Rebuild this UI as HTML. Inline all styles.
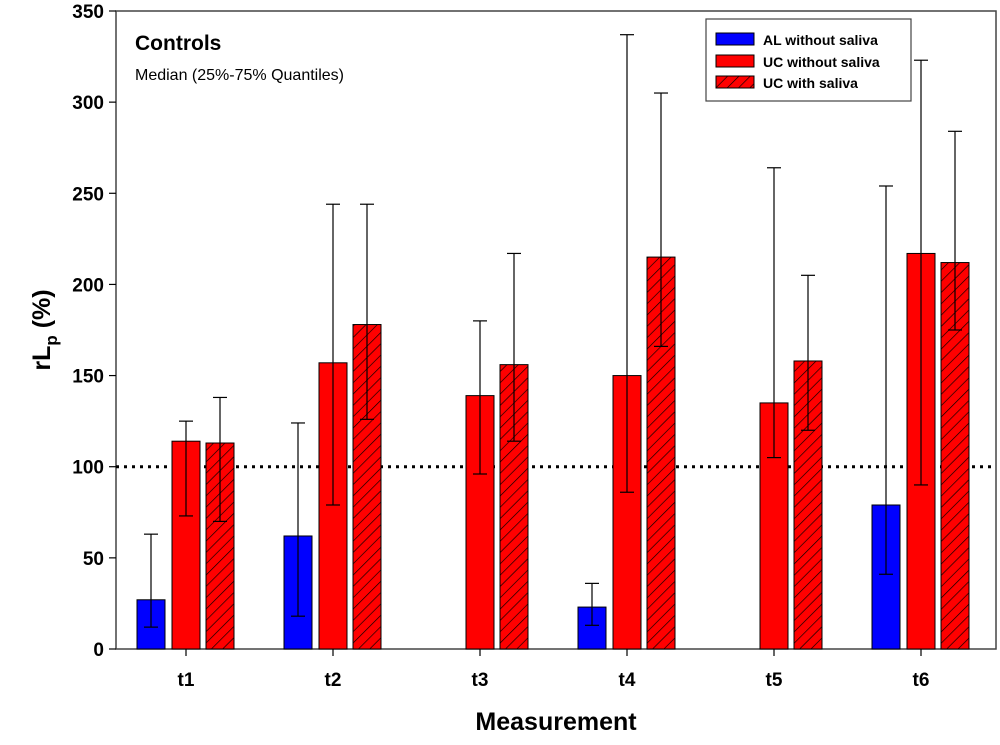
<!DOCTYPE html>
<html><head><meta charset="utf-8"><style>
body{margin:0;background:#fff;}
svg text{font-family:"Liberation Sans",Arial,sans-serif;}
</style></head><body>
<svg width="1000" height="740" xmlns="http://www.w3.org/2000/svg">
<defs>
<pattern id="hatch" patternUnits="userSpaceOnUse" width="8" height="8" patternTransform="rotate(45)">
<rect width="8" height="8" fill="#ff0000"/>
<line x1="0" y1="0" x2="0" y2="8" stroke="#000" stroke-width="1.3"/>
</pattern>
</defs>
<rect x="116" y="11" width="880" height="638" fill="none" stroke="#444" stroke-width="1.5"/>
<g id="yaxis"></g>
<g id="xaxis"></g>
<line x1="116" x2="996" y1="466" y2="466" stroke="#000" stroke-width="3" stroke-dasharray="3,5" id="refline"/>
<g id="bars"></g>
<text x="135" y="50" font-size="21" font-weight="bold">Controls</text>
<text x="135" y="80" font-size="16">Median (25%-75% Quantiles)</text>
<text transform="translate(50,330) rotate(-90)" text-anchor="middle" font-size="25" font-weight="bold">rL<tspan font-size="17" dy="7">p</tspan><tspan dy="-7"> (%)</tspan></text>
<text x="556" y="730" text-anchor="middle" font-size="25" font-weight="bold">Measurement</text>
<g>
<rect x="706" y="19" width="205" height="82" fill="#fff" stroke="#444" stroke-width="1.2"/>
<rect x="716" y="33" width="38" height="12" fill="#0000ff" stroke="#000"/>
<text x="763" y="45" font-size="14" font-weight="bold">AL without saliva</text>
<rect x="716" y="55" width="38" height="12" fill="#ff0000" stroke="#000"/>
<text x="763" y="67" font-size="14" font-weight="bold">UC without saliva</text>
<rect x="716" y="76" width="38" height="12" fill="url(#hatch)" stroke="#000"/>
<text x="763" y="88" font-size="14" font-weight="bold">UC with saliva</text>
</g>
</svg>
<script>
const categories=["t1","t2","t3","t4","t5","t6"];
const alMed=[27,62,null,23,null,79];
const alLo=[12,18,null,13,null,41];
const alHi=[63,124,null,36,null,254];
const ucMed=[114,157,139,150,135,217];
const ucLo=[73,79,96,86,105,90];
const ucHi=[125,244,180,337,264,323];
const ucsMed=[113,178,156,215,158,212];
const ucsLo=[70,126,114,166,120,175];
const ucsHi=[138,244,217,305,205,284];
const yTicks=[0,50,100,150,200,250,300,350];
const refValue=100;
const NS="http://www.w3.org/2000/svg";
const y=v=>649-v*(638/350);
const xc=i=>186+i*147;
function mk(tag,attrs,parent){const e=document.createElementNS(NS,tag);for(const k in attrs)e.setAttribute(k,attrs[k]);parent.appendChild(e);return e;}
const ya=document.getElementById('yaxis'),xa=document.getElementById('xaxis'),bg=document.getElementById('bars');
document.getElementById('refline').setAttribute('y1',y(refValue));
document.getElementById('refline').setAttribute('y2',y(refValue));
yTicks.forEach(t=>{
 const l=mk('line',{x1:109,x2:116,y1:y(t),y2:y(t),stroke:'#000','stroke-width':1.2},ya);
 
 
 const tx=mk('text',{x:104,y:y(t)+7,'text-anchor':'end','font-size':19,'font-weight':'bold'},ya);
 tx.textContent=t;
 
 
});
categories.forEach((c,i)=>{
 const l=mk('line',{x1:xc(i),x2:xc(i),y1:649,y2:656,stroke:'#000','stroke-width':1.2},xa);
 
 
 const tx=mk('text',{x:xc(i),y:686,'text-anchor':'middle','font-size':19,'font-weight':'bold'},xa);
 tx.textContent=c;
 
 
});
const series=[[alMed,alLo,alHi,-35,'#0000ff','al'],[ucMed,ucLo,ucHi,0,'#ff0000','uc'],[ucsMed,ucsLo,ucsHi,34,'url(#hatch)','uc-saliva']];
series.forEach(([m,lo,hi,off,fill,nm])=>{
 categories.forEach((c,i)=>{
  if(m[i]==null)return;
  const cx=xc(i)+off;
  const r=mk('rect',{x:cx-14,y:y(m[i]),width:28,height:649-y(m[i]),fill:fill,stroke:'#000','stroke-width':1},bg);
  
  
  const g=mk('g',{stroke:'#000','stroke-width':1.2},bg);
  
  
  mk('line',{x1:cx,x2:cx,y1:y(lo[i]),y2:y(hi[i])},g);
  mk('line',{x1:cx-7,x2:cx+7,y1:y(lo[i]),y2:y(lo[i])},g);
  mk('line',{x1:cx-7,x2:cx+7,y1:y(hi[i]),y2:y(hi[i])},g);
 });
});
</script>
</body></html>
